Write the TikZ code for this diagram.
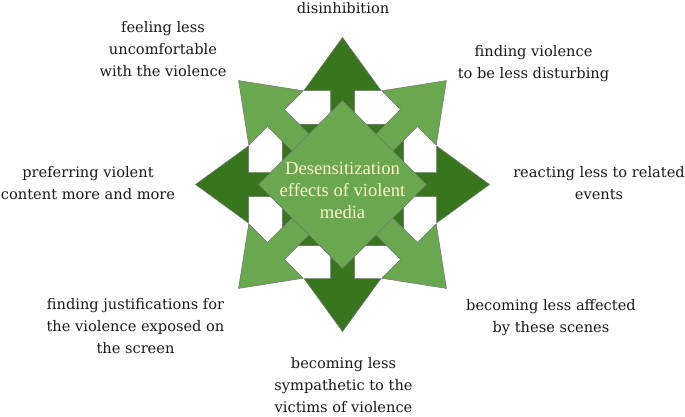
\documentclass[tikz,border=0pt]{standalone}
\usepackage{fontspec}
\setmainfont{DejaVu Serif}
\newfontfamily\hubfont{Liberation Serif}
\definecolor{darkleaf}{HTML}{38761D}
\definecolor{lightleaf}{HTML}{6AA84F}
\definecolor{hubtext}{HTML}{FFF2CC}
\tikzset{
	effect/.style={align=center, inner sep=0pt, text=black!90, font=\fontsize{14.6}{22}\selectfont},
	hublabel/.style={align=center, inner sep=0pt, text=hubtext, font=\hubfont\fontsize{18.6}{21.6}\selectfont},
	darkarrow/.style={fill=darkleaf, draw=black!55, line width=0.5pt},
	lightarrow/.style={fill=lightleaf, draw=black!55, line width=0.5pt},
}
\begin{document}
\begin{tikzpicture}[x=1pt,y=-1pt]
	\useasboundingbox (0,0) rectangle (685,416);

	\begin{scope}[shift={(342.5,184.5)}]
		\draw[darkarrow] (-60.5,-60.5) rectangle (60.5,60.5);
		\foreach \a in {0,90,180,270}
			\draw[darkarrow, rotate=\a] (0,12) -- (94,12) -- (94,38.5) -- (147,0) -- (94,-38.5) -- (94,-12) -- (0,-12) -- cycle;
		\foreach \a in {45,135,225,315}
			\draw[lightarrow, rotate=\a] (0,12) -- (94,12) -- (94,38.5) -- (147,0) -- (94,-38.5) -- (94,-12) -- (0,-12) -- cycle;
		\draw[lightarrow] (0,-84) -- (84,0) -- (0,84) -- (-84,0) -- cycle;
	\end{scope}

	\node[hublabel] (hub) at (342.5,190.5) {Desensitization\\effects of violent\\media};

	\node[effect] (top) at (343,8.5) {disinhibition};
	\node[effect] (topleft) at (163,49.5) {feeling less\\uncomfortable\\with the violence};
	\node[effect] (topright) at (533.5,63.7) {finding violence\\to be less disturbing};
	\node[effect] (left) at (88,183.5) {preferring violent\\content more and more};
	\node[effect] (right) at (599,183.5) {reacting less to related\\events};
	\node[effect] (botleft) at (135.5,326.5) {finding justifications for\\the violence exposed on\\the screen};
	\node[effect] (botright) at (551,317.2) {becoming less affected\\by these scenes};
	\node[effect] (bottom) at (343.5,385) {becoming less\\sympathetic to the\\victims of violence};
\end{tikzpicture}
\end{document}
